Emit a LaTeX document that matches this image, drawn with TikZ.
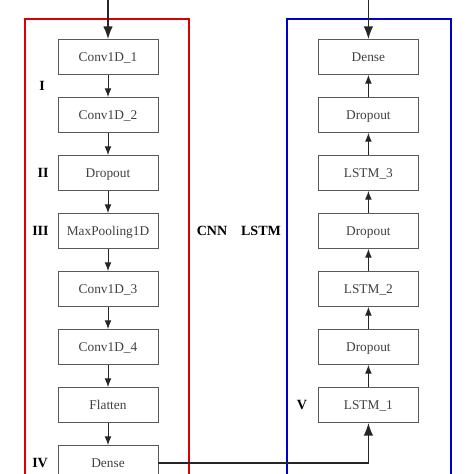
\documentclass[tikz,border=0pt]{standalone}
\usepackage{fontspec}
\setmainfont{Liberation Serif}
\usetikzlibrary{positioning, arrows.meta}
\tikzset{
>={Latex[length=0.22cm, width=0.17cm]}, % filled arrow heads
node distance=1.45cm, % centre to centre distance between two layers
layer/.style={draw=black!65, line width=0.5pt, minimum width=2.5cm, minimum height=0.875cm, text height=1.6ex, text depth=0.3ex, text=black!75, font=\fontsize{9.5}{11}\selectfont}, % one layer of the network
flow/.style={->, draw=black!85, line width=0.7pt}, % arrow between layers
input/.style={-{Latex[length=0.32cm, width=0.24cm]}, draw=black!85, line width=1.1pt}, % incoming data
tag/.style={font=\bfseries\fontsize{10}{12}\selectfont}, % roman numerals and block names
}
\begin{document}
\begin{tikzpicture}
            \useasboundingbox (0,0) rectangle (11.85,11.85);
            % CNN branch
            \node[layer] (c1) at (2.7,10.425) {Conv1D\_1};
            \node[layer, below of=c1] (c2) {Conv1D\_2};
            \node[layer, below of=c2] (d1) {Dropout};
            \node[layer, below of=d1] (mp) {MaxPooling1D};
            \node[layer, below of=mp] (c3) {Conv1D\_3};
            \node[layer, below of=c3] (c4) {Conv1D\_4};
            \node[layer, below of=c4] (fl) {Flatten};
            \node[layer, below of=fl] (de1) {Dense};
            % LSTM branch
            \node[layer] (de2) at (9.21,10.425) {Dense};
            \node[layer, below of=de2] (d4) {Dropout};
            \node[layer, below of=d4] (l3) {LSTM\_3};
            \node[layer, below of=l3] (d3) {Dropout};
            \node[layer, below of=d3] (l2) {LSTM\_2};
            \node[layer, below of=l2] (d2) {Dropout};
            \node[layer, below of=d2] (l1) {LSTM\_1};
            % frames
            \draw[red!85!black, line width=1.1pt] (0.625,-0.5) rectangle (4.725,11.375);
            \draw[blue!80!black, line width=1.1pt] (7.175,-0.5) rectangle (11.275,11.375);
            % labels
            \node[tag] at (1.05,9.7) {I};
            \node[tag, left=0.1cm of d1] {II};
            \node[tag, left=0.1cm of mp] {III};
            \node[tag, left=0.12cm of de1] {IV};
            \node[tag, left=0.15cm of l1] {V};
            \node[tag] at (5.3,6.075) {CNN};
            \node[tag] at (6.525,6.075) {LSTM};
            % inputs
            \coordinate (inL) at (2.7,11.85);
            \coordinate (inR) at (9.21,11.85);
            \draw[input] (inL) -- (c1);
            \draw[input] (inR) -- (de2);
            % connections
            \draw[flow] (c1) -- (c2);
            \draw[flow] (c2) -- (d1);
            \draw[flow] (d1) -- (mp);
            \draw[flow] (mp) -- (c3);
            \draw[flow] (c3) -- (c4);
            \draw[flow] (c4) -- (fl);
            \draw[flow] (fl) -- (de1);
            \draw[input] (de1.east) -| (l1.south);
            \draw[flow] (l1) -- (d2);
            \draw[flow] (d2) -- (l2);
            \draw[flow] (l2) -- (d3);
            \draw[flow] (d3) -- (l3);
            \draw[flow] (l3) -- (d4);
            \draw[flow] (d4) -- (de2);
\end{tikzpicture}
\end{document}
